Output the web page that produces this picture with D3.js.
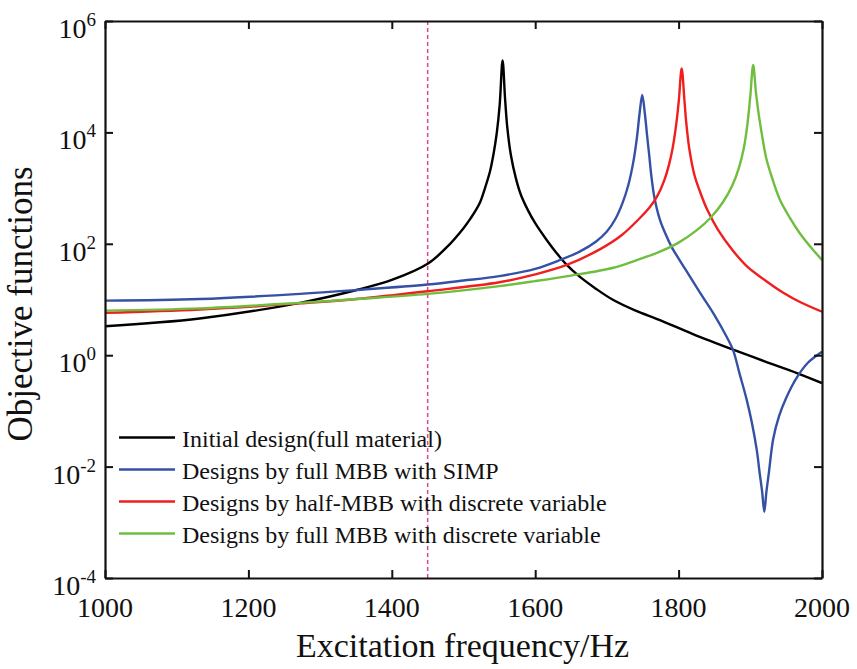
<html>
<head>
<script src="https://d3js.org/d3.v7.min.js"></script>
<style>
	body { margin: 0; background: #fff; }
	svg text { font-family: "Liberation Serif", "Times New Roman", serif; fill: #111; }
	.curve { fill: none; stroke-width: 2.4; stroke-linejoin: round; }
</style>
</head>
<body>
<svg id="chart"></svg>
<script>
// data: [frequency Hz, objective value]
var initialDesign = [[1000,3.31],[1132,4.57],[1272,8.71],[1351,14.8],[1400,22.4],[1450,43.7],[1476,85.1],[1500,191],
	[1510,288],[1517,398],[1523,550],[1530,1000],[1537,2000],[1542,4170],[1546.5,10000],[1550.5,31600],[1554.5,195000],
	[1558,39800],[1561,12600],[1566,3980],[1573,1510],[1580,759],[1590,398],[1600,234],[1616,117],[1630,67.6],[1644,41.7],
	[1662,25.7],[1685,15.5],[1709,9.77],[1740,6.31],[1774,4.27],[1820,2.4],[1876,1.26],[1920,0.776],[1965,0.479],[2000,0.316]];
var simpFull = [[1000,9.55],[1132,10.2],[1272,12.6],[1351,14.8],[1450,18.6],[1500,21.9],[1550,26.3],[1600,35.5],
	[1635,51.3],[1662,72.4],[1685,110],[1700,166],[1712,282],[1722,550],[1730,1150],[1737,3020],[1742,8320],
	[1745.5,21400],[1749.3,46800],[1753,21400],[1756,8910],[1759,3890],[1762,1660],[1766,708],[1774,269],[1782,148],
	[1790,89.1],[1810,33.9],[1830,13.2],[1850,5.25],[1867,2.14],[1876,1.23],[1885,0.468],[1895,0.158],[1902,0.0631],
	[1909,0.02],[1913,0.00776],[1916.5,0.00355],[1919.5,0.00155],[1922.5,0.00355],[1926,0.00794],[1932,0.0316],
	[1940,0.0794],[1950,0.17],[1965,0.398],[1980,0.724],[2000,1.15]];
var halfDiscrete = [[1000,5.75],[1132,6.61],[1272,8.51],[1351,10.2],[1450,14.1],[1550,20.4],[1600,28.2],[1644,41.7],
	[1690,79.4],[1720,141],[1745,282],[1760,457],[1770,708],[1780,1380],[1787,2750],[1792,5500],[1797,15100],
	[1800.5,39800],[1804.3,141000],[1808,39800],[1810.5,15800],[1815,5010],[1822,1740],[1830,851],[1840,407],
	[1855,178],[1875,77.6],[1895,39.8],[1920,22.4],[1946,13.2],[1970,8.91],[2000,6.03]];
var fullDiscrete = [[1000,6.31],[1132,6.92],[1272,8.71],[1351,10.2],[1450,12.6],[1550,17.4],[1600,21.4],[1650,26.9],
	[1709,37.2],[1740,50.1],[1774,72.4],[1800,105],[1825,174],[1844,288],[1862,562],[1875,1120],[1884,2290],
	[1891,5250],[1896,14100],[1900,44700],[1904,162000],[1908,50100],[1912,20000],[1917,7940],[1922,3550],
	[1930,1580],[1941,631],[1955,295],[1969,155],[1985,85.1],[2000,51.3]];

var seriesNames = ["Initial design(full material)", "Designs by full MBB with SIMP",
	"Designs by half-MBB with discrete variable", "Designs by full MBB with discrete variable"];
var seriesData = [initialDesign, simpFull, halfDiscrete, fullDiscrete];
var seriesColors = ["#000000", "#3551a6", "#f01e1e", "#6fbe3f"];

var xTicks = [1000, 1200, 1400, 1600, 1800, 2000];
var yTickExp = [-4, -2, 0, 2, 4, 6];
var markerFreq = 1450;

var W = 857, H = 669;
var m = { left: 105, right: 822, top: 21, bottom: 578 };

var svg = d3.select("#chart").attr("width", W).attr("height", H);

var x = d3.scaleLinear().domain([1000, 2000]).range([m.left, m.right]);
var y = d3.scaleLog().domain([1e-4, 1e6]).range([m.bottom, m.top]);

svg.append("clipPath").attr("id", "plotclip")
	.append("rect").attr("x", m.left).attr("y", m.top)
	.attr("width", m.right - m.left).attr("height", m.bottom - m.top);

// dashed marker line
svg.append("line")
	.attr("x1", x(markerFreq)).attr("x2", x(markerFreq))
	.attr("y1", m.top).attr("y2", m.bottom)
	.attr("stroke", "#d9488c").attr("stroke-width", 1.5)
	.attr("stroke-dasharray", "4,3");

var line = d3.line()
	.x(function(d) { return x(d[0]); })
	.y(function(d) { return y(d[1]); })
	.curve(d3.curveCatmullRom.alpha(0.5));

var plot = svg.append("g").attr("clip-path", "url(#plotclip)");
plot.selectAll(".curve")
	.data(seriesData)
	.enter().append("path")
	.attr("class", "curve")
	.attr("stroke", function(d, i) { return seriesColors[i]; })
	.attr("d", line);

// axes: ticks inside, on all four sides
var axB = d3.axisBottom(x).tickValues(xTicks).tickSizeInner(-8).tickSizeOuter(0).tickFormat("");
var axT = d3.axisTop(x).tickValues(xTicks).tickSizeInner(-8).tickSizeOuter(0).tickFormat("");
var yVals = yTickExp.map(function(e) { return Math.pow(10, e); });
var axL = d3.axisLeft(y).tickValues(yVals).tickSizeInner(-8).tickSizeOuter(0).tickFormat("");
var axR = d3.axisRight(y).tickValues(yVals).tickSizeInner(-8).tickSizeOuter(0).tickFormat("");

function styleAxis(g) {
	g.selectAll("path").attr("stroke", "#111").attr("stroke-width", 2.2);
	g.selectAll("line").attr("stroke", "#111").attr("stroke-width", 2);
}
svg.append("g").attr("transform", "translate(0," + m.bottom + ")").call(axB).call(styleAxis);
svg.append("g").attr("transform", "translate(0," + m.top + ")").call(axT).call(styleAxis);
svg.append("g").attr("transform", "translate(" + m.left + ",0)").call(axL).call(styleAxis);
svg.append("g").attr("transform", "translate(" + m.right + ",0)").call(axR).call(styleAxis);

// tick labels
svg.selectAll(".xlab")
	.data(xTicks)
	.enter().append("text")
	.attr("class", "xlab")
	.attr("x", function(d) { return x(d); })
	.attr("y", 617)
	.attr("text-anchor", "middle")
	.attr("font-size", 28)
	.text(function(d) { return d; });

var ylab = svg.selectAll(".ylab")
	.data(yTickExp)
	.enter().append("text")
	.attr("class", "ylab")
	.attr("x", 96)
	.attr("y", function(d) { return y(Math.pow(10, d)) + 17; })
	.attr("text-anchor", "end")
	.attr("font-size", 28);
ylab.append("tspan").text("10");
ylab.append("tspan")
	.attr("font-size", 19)
	.attr("dy", -12)
	.text(function(d) { return d; });

// axis titles
svg.append("text")
	.attr("x", (m.left + m.right) / 2 - 1)
	.attr("y", 657)
	.attr("text-anchor", "middle")
	.attr("font-size", 34)
	.text("Excitation frequency/Hz");

svg.append("text")
	.attr("transform", "translate(32," + 304 + ") rotate(-90)")
	.attr("text-anchor", "middle")
	.attr("font-size", 35)
	.text("Objective functions");

// legend (no box)
var leg = svg.selectAll(".leg")
	.data(seriesNames)
	.enter().append("g")
	.attr("class", "leg")
	.attr("transform", function(d, i) { return "translate(119," + (437.5 + i * 32) + ")"; });
leg.append("line")
	.attr("x1", 0).attr("x2", 56)
	.attr("stroke", function(d, i) { return seriesColors[i]; })
	.attr("stroke-width", 2.4);
leg.append("text")
	.attr("x", 63)
	.attr("y", 9)
	.attr("font-size", 24)
	.text(function(d) { return d; });
</script>
</body>
</html>
